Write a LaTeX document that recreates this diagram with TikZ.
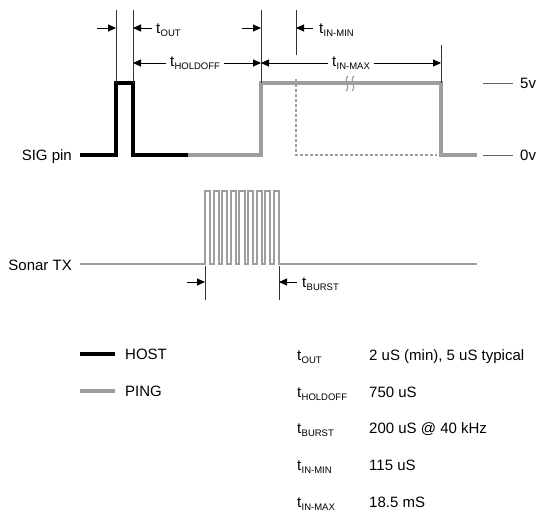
\documentclass[tikz,border=0pt]{standalone}
\usepackage{fontspec}
\setmainfont{Liberation Sans}
\usetikzlibrary{arrows.meta}

\definecolor{pinggray}{HTML}{9E9E9E}
% t with a small raised-down index
\newcommand{\tdur}[1]{t\kern0.3pt\raisebox{-3.5pt}{\fontsize{9.5}{10}\selectfont #1}}

\tikzset{
  host/.style={line width=3.2pt, black},
  ping/.style={line width=3.2pt, pinggray},
  pingdot/.style={line width=2.5pt, pinggray, dash pattern=on 2.5pt off 2.5pt},
  burst/.style={line width=2pt, pinggray},
  extline/.style={line width=0.9pt, black!80},
  tick/.style={line width=0.9pt, black!60},
  dimarrow/.style={line width=0.9pt, -{Triangle[length=8pt,width=7pt]}},
  dimboth/.style={line width=0.9pt, {Triangle[length=8pt,width=7pt]}-{Triangle[length=8pt,width=7pt]}},
  lbl/.style={font=\fontsize{15}{18}\selectfont, inner sep=0pt},
}

\begin{document}
\begin{tikzpicture}[x=1pt, y=-1pt]
    \useasboundingbox (0,0) rectangle (559,525);

    % ================= SIG pin =================
    \coordinate (h0) at (80,155);
    \coordinate (h1) at (116,155);
    \coordinate (h2) at (116,83);   % host pulse up
    \coordinate (h3) at (133,83);
    \coordinate (h4) at (133,155);  % host pulse down
    \coordinate (h5) at (188,155);  % host -> ping
    \coordinate (p1) at (261,155);
    \coordinate (p2) at (261,83);   % ping rises
    \coordinate (p3) at (441,83);
    \coordinate (p4) at (441,155);  % ping falls (max)
    \coordinate (p5) at (477,155);
    \coordinate (m1) at (296,83);   % ping falls (min)
    \coordinate (m2) at (296,155);

    \draw[host] (h0) -- (h1) -- (h2) -- (h3) -- (h4) -- (h5);
    \draw[ping] (h5) -- (p1) -- (p2) -- (p3) -- (p4) -- (p5);
    \draw[pingdot] ([yshift=4pt]m1) -- (m2) -- ([xshift=-4pt]p4);

    % break mark on the long high level
    \draw[pinggray, line width=1.2pt] (348,76) .. controls (343,81) and (351,86) .. (346,91);
    \draw[pinggray, line width=1.2pt] (354,76) .. controls (349,81) and (357,86) .. (352,91);

    \node[lbl, anchor=base east] (sig) at (72,160.5) {SIG pin};

    % level ticks
    \coordinate (v5a) at (483,83);  \coordinate (v5b) at (513,83);
    \coordinate (v0a) at (483,155); \coordinate (v0b) at (513,155);
    \draw[tick] (v5a) -- (v5b);
    \draw[tick] (v0a) -- (v0b);
    \node[lbl, anchor=west] (five) at (520,83) {5v};
    \node[lbl, anchor=west] (zero) at (520,155) {0v};

    % ================= Timing marks =================
    % extension lines
    \coordinate (x1) at (116,10);
    \coordinate (x2) at (133,10);
    \coordinate (x3) at (261,10);
    \coordinate (x4) at (296,10);
    \coordinate (x4b) at (296,55);
    \coordinate (x5) at (441,45);
    \draw[extline] (x1) -- (h2);
    \draw[extline] (x2) -- (h3);
    \draw[extline] (x3) -- (p2);
    \draw[extline] (x4) -- (x4b);
    \draw[extline] (x5) -- (p3);

    % t_OUT
    \coordinate (o1) at (97,28);  \coordinate (o2) at (116,28);
    \coordinate (o3) at (152,28); \coordinate (o4) at (133,28);
    \draw[dimarrow] (o1) -- (o2);
    \draw[dimarrow] (o3) -- (o4);
    \node[lbl, anchor=base west] (tout) at (156,33) {\tdur{OUT}};

    % t_HOLDOFF and t_IN-MAX
    \coordinate (d1) at (133,63); \coordinate (d2) at (261,63);
    \coordinate (d3) at (441,63);
    \draw[dimboth] (d1) -- (d2);
    \draw[dimboth] (d2) -- (d3);
    \node[lbl, fill=white, inner xsep=4pt, inner ysep=1pt] (thold) at (195,63) {\tdur{HOLDOFF}};
    \node[lbl, fill=white, inner xsep=4pt, inner ysep=1pt] (tmax) at (351,63) {\tdur{IN-MAX}};

    % t_IN-MIN
    \coordinate (n1) at (242,28); \coordinate (n2) at (261,28);
    \coordinate (n3) at (313,28); \coordinate (n4) at (296,28);
    \draw[dimarrow] (n1) -- (n2);
    \draw[dimarrow] (n3) -- (n4);
    \node[lbl, anchor=base west] (tmin) at (319,33) {\tdur{IN-MIN}};

    % ================= Sonar TX =================
    \coordinate (s0) at (80,264);
    \coordinate (s1) at (205,264);
    \coordinate (s2) at (477,264);
    \draw[burst] (s0) -- (s1)
        \foreach \k in {0,...,8} { -- ++(0,-73) -- ++(5.2,0) -- ++(0,73) -- ++(3.4,0) }
        -- (s2);
    \node[lbl, anchor=base east] (sonar) at (72,270) {Sonar TX};

    % t_BURST
    \coordinate (b1) at (205,266); \coordinate (b2) at (205,300);
    \coordinate (b3) at (279,266); \coordinate (b4) at (279,300);
    \draw[extline] (b1) -- (b2);
    \draw[extline] (b3) -- (b4);
    \coordinate (b5) at (187,282); \coordinate (b6) at (205,282);
    \coordinate (b7) at (297,282); \coordinate (b8) at (279,282);
    \draw[dimarrow] (b5) -- (b6);
    \draw[dimarrow] (b7) -- (b8);
    \node[lbl, anchor=base west] (tburst) at (302,287) {\tdur{BURST}};

    % ================= Legend =================
    \coordinate (l1) at (80,354);  \coordinate (l2) at (115,354);
    \coordinate (l3) at (80,391);  \coordinate (l4) at (115,391);
    \draw[host] (l1) -- (l2);
    \draw[ping] (l3) -- (l4);
    \node[lbl, anchor=base west] (lhost) at (125,359.5) {HOST};
    \node[lbl, anchor=base west] (lping) at (125,396.5) {PING};

    % ================= Table =================
    \foreach \y/\s/\v [count=\i] in {355/OUT/{2 uS (min), 5 uS typical},
                                     392/HOLDOFF/{750 uS},
                                     428/BURST/{200 uS @ 40 kHz},
                                     465/IN-MIN/{115 uS},
                                     502/IN-MAX/{18.5 mS}} {
        \node[lbl, anchor=base west] (tn\i) at (297,\y+5) {\tdur{\s}};
        \node[lbl, anchor=base west] (tv\i) at (369,\y+5) {\v};
    }

\end{tikzpicture}
\end{document}
